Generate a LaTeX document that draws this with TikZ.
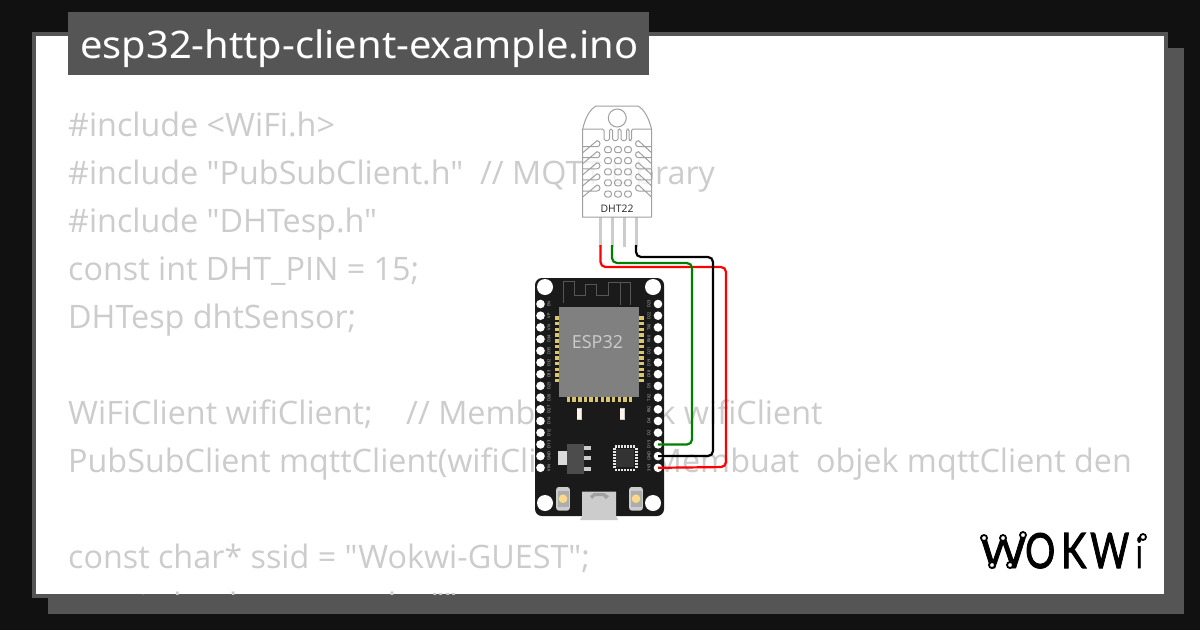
\documentclass[tikz,border=0pt]{standalone}
\usepackage{fontspec}
\setmainfont{Open Sans}[Ligatures=TeXOff]
\newfontfamily\titlefont{Noto Sans}
\newfontfamily\logofont[FakeBold=2.2]{Lato}
\definecolor{bgdark}{HTML}{111111}
\definecolor{panelgray}{HTML}{555555}
\definecolor{codegray}{HTML}{CCCCCC}
\definecolor{boardblack}{HTML}{1A1A1A}
\definecolor{padgold}{HTML}{D9C66E}
\definecolor{modgray}{HTML}{808080}
\definecolor{wiregreen}{HTML}{008000}
\definecolor{wirered}{HTML}{FF0000}
\definecolor{sensorgray}{HTML}{A0A0A0}
\definecolor{btnamber}{HTML}{FFD98A}
\tikzset{
  codeline/.style={anchor=base west,inner sep=0pt,text=codegray,font=\fontsize{32.3}{32}\selectfont},
  wire/.style={line width=2.2pt,rounded corners=5pt},
  pinhole/.style={circle,fill=white,inner sep=0pt,minimum size=8.6pt},
  mounthole/.style={circle,fill=white,inner sep=0pt,minimum size=16pt},
  pinlabel/.style={rotate=90,inner sep=0pt,text=codegray,font=\fontsize{4}{4}\selectfont},
  pad/.style={fill=padgold,draw=none},
  sensorline/.style={draw=sensorgray,line width=1pt},
  sensorslot/.style={sensorline,rounded corners=2.2pt},
  ring/.style={circle,draw=black,fill=white,line width=1.8pt,inner sep=0pt,minimum size=6pt},
}
\begin{document}
\begin{tikzpicture}[x=1pt,y=-1pt]
\useasboundingbox (0,0) rectangle (1200,630);
\fill[bgdark] (0,0) rectangle (1200,630);
\fill[panelgray] (48,48) rectangle (1184,614);
\fill[panelgray] (32,32) rectangle (1168,598);
\fill[white] (36,36) rectangle (1164,594);
% code
\begin{scope}
\clip (36,36) rectangle (1164,594);
\node[codeline] (c1) at (68,136) {\#include <WiFi.h>};
\node[codeline] (c2) at (68,184) {\#include "PubSubClient.h"\ \ // MQTT Library};
\node[codeline] (c3) at (68,232) {\#include "DHTesp.h"};
\node[codeline] (c4) at (68,280) {const int DHT\_PIN = 15;};
\node[codeline] (c5) at (68,328) {DHTesp dhtSensor;};
\node[codeline] (c7) at (68,424) {WiFiClient wifiClient;\ \ \ \ // Membuat objek wifiClient};
\node[codeline] (c8) at (68,472) {PubSubClient mqttClient(wifiClient);\ \ // Membuat\ \ objek mqttClient den};
\node[codeline] (c10) at (68,568) {const char* ssid = "Wokwi-GUEST";};
\node[codeline] (c11) at (68,616) {const char* password = "";};
\end{scope}
% title
\fill[panelgray] (68,12) rectangle (649,75);
\node[anchor=base west,inner sep=0pt,text=white,font=\titlefont\fontsize{38}{38}\selectfont,xscale=1.048] (title) at (80,58) {esp32-http-client-example.ino};
% sensor
\foreach \px in {600,612,624,636} \fill[codegray] (\px-1.5,217) rectangle (\px+1.5,247);
\draw[sensorline,fill=white,fill opacity=0.75] (582.7,217) -- (582.7,129) .. controls (585,119) and (589,110) .. (596,106) -- (638,106) .. controls (645,110) and (649,119) .. (651.5,129) -- (651.5,217) -- cycle;
\draw[sensorline,fill=white] (617.3,118) circle (9);
\draw[sensorline,rounded corners=1.5pt] (582.7,129) -- (604,129) -- (604,140.5) -- (609.5,140.5) -- (609.5,129) -- (612.5,129) -- (612.5,140.5) -- (618,140.5) -- (618,129) -- (621,129) -- (621,140.5) -- (626.5,140.5) -- (626.5,129) -- (629,129) -- (629,140.5) -- (631.5,140.5) -- (631.5,129) -- (651.5,129);
\foreach \sy in {149.7,160.7,171.8,182.8,194}{
  \draw[sensorline] (582.7,\sy-3) -- (597,\sy-3) arc (90:-90:3) -- (582.7,\sy+3);
  \draw[sensorline] (651.5,\sy-3) -- (638.5,\sy-3) arc (90:270:3) -- (651.5,\sy+3);
  \foreach \sx in {608,618,628} \draw[sensorslot] (\sx-3.3,\sy-3) rectangle (\sx+3.3,\sy+3);
}
\node[inner sep=0pt,text=black!85,font=\fontsize{10.4}{10}\selectfont] (dhtlabel) at (617,208.6) {DHT22};
% board
\fill[boardblack,rounded corners=7pt] (535,278) rectangle (664,516);
\foreach \hx/\hy [count=\i] in {545/287,653/287,545/503,653/503} \node[mounthole] (hole\i) at (\hx,\hy) {};
\draw[panelgray,line width=0.9pt] (563.5,303) -- (563.5,281) -- (574,281) -- (574,295) -- (585.5,295) -- (585.5,284) -- (596.5,284) -- (596.5,295) -- (608,295) -- (608,282) -- (630,282) -- (630,305);
\draw[panelgray,line width=0.9pt] (620,282) -- (620,305);
\fill[modgray] (559,307) rectangle (639,397);
\foreach \i in {0,...,11}{
  \fill[pad] (554.5,318+5.7*\i-1.7) rectangle (559,318+5.7*\i+1.7);
  \fill[pad] (639,318+5.7*\i-1.7) rectangle (643.5,318+5.7*\i+1.7);
  \fill[pad] (568.5+5.65*\i-1.7,397) rectangle (568.5+5.65*\i+1.7,402);
}
\node[inner sep=0pt,text=codegray,font=\fontsize{18}{18}\selectfont] (esp) at (597.5,342.5) {ESP32};
% pins
\foreach \lab [count=\i from 0] in {EN,VP,VN,D34,D35,D32,D33,D25,D26,D27,D14,D12,D13,GND,VIN}{
  \node[pinhole] (L\i) at (540.5,304+11.7*\i) {};
  \node[pinlabel] (LT\i) at (549,304+11.7*\i) {\lab};
}
\foreach \lab [count=\i from 0] in {D23,D22,TX0,RX0,D21,D19,D18,D5,TX2,RX2,D4,D2,D15,GND,3V3}{
  \node[pinhole] (R\i) at (658,304+11.7*\i) {};
  \node[pinlabel] (RT\i) at (649,304+11.7*\i) {\lab};
}
% small parts
\foreach \lx in {579,622}{
  \fill[codegray] (\lx-2.5,408) rectangle (\lx+2.5,420);
  \fill[white!92!orange] (\lx-1.7,409) rectangle (\lx+1.7,419);
}
% regulator
\fill[codegray!70!white] (558,451) rectangle (567,465);
\fill[panelgray!90!black] (567,444) rectangle (584,474);
\foreach \ry in {448,458,469} \fill[codegray] (584,\ry-2) rectangle (591,\ry+2);
% usb chip
\fill[black!80] (616,449) rectangle (634,467);
\foreach \i in {0,...,6}{
  \fill[white!90!black] (616+3*\i-0.8,445) rectangle (616+3*\i+0.8,447.5);
  \fill[white!90!black] (616+3*\i-0.8,468.5) rectangle (616+3*\i+0.8,471);
  \fill[white!90!black] (613,449+3*\i-0.8) rectangle (615.5,449+3*\i+0.8);
  \fill[white!90!black] (635,449+3*\i-0.8) rectangle (637.5,449+3*\i+0.8);
}
% buttons
\foreach \bx in {563,636}{
  \fill[codegray,rounded corners=2.5pt] (\bx-6.8,487) rectangle (\bx+6.8,510.5);
  \fill[black!15!codegray] (\bx-5.5,491) rectangle (\bx+5.5,507);
  \fill[btnamber] (\bx,498.7) circle (4.3);
}
% usb
\fill[codegray] (582,491.5) -- (616,491.5) -- (616,516) -- (618,520) -- (580,520) -- (582,516) -- cycle;
\fill[sensorgray] (590,496) -- (594,493) -- (604,493) -- (609,496) -- (606,499) -- (603,496) -- (595,496) -- (592,499) -- cycle;
% wires
\coordinate (dhtV) at (600.5,245);
\coordinate (dhtS) at (612,245);
\coordinate (dhtG) at (636,245);
\draw[wire,wirered] (dhtV) -- (dhtV |- 0,267) -- (726,267) -- (726,467) -- (R14.center);
\draw[wire,wiregreen] (dhtS) -- (dhtS |- 0,263) -- (692,263) -- (692,444.5) -- (R12.center);
\draw[wire,black] (dhtG) -- (dhtG |- 0,257) -- (713,257) -- (713,456) -- (R13.center);
% logo
\node[anchor=base west,inner sep=0pt,text=black,font=\logofont\fontsize{48}{48}\selectfont] (logo) at (980,568) {\makebox[45pt][l]{\resizebox{46pt}{31pt}{W}}\makebox[36pt][l]{\resizebox{30pt}{35pt}{O}}\makebox[29pt][l]{\resizebox{25pt}{35pt}{K}}\makebox[46pt][l]{\resizebox{39pt}{35pt}{W}}\resizebox{6pt}{31pt}{i}};
\foreach \rx/\ry [count=\i] in {984/538,1003/538,1023/535,992/565,1010/565,1143/537}
  \node[ring] (ring\i) at (\rx,\ry) {};
\end{tikzpicture}
\end{document}
